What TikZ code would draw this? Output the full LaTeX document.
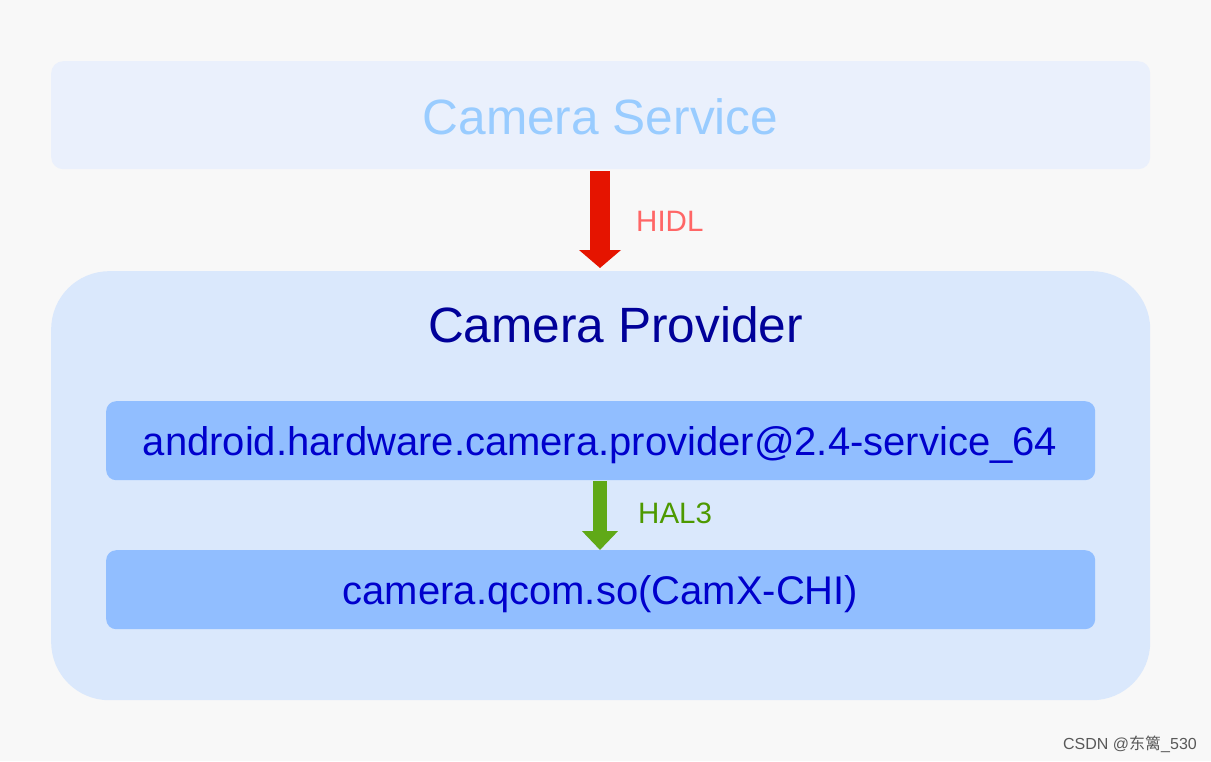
\documentclass[tikz,border=0pt]{standalone}
\usepackage{fontspec}
\setmainfont{Liberation Sans}
\newfontfamily\cjk{Noto Sans CJK SC}
\usetikzlibrary{arrows.meta}
\definecolor{bgc}{HTML}{F8F8F8}
\definecolor{svcfill}{HTML}{EAF0FC}
\definecolor{svctext}{HTML}{99CCFF}
\definecolor{provfill}{HTML}{DAE8FC}
\definecolor{provtext}{HTML}{000099}
\definecolor{innerfill}{HTML}{91BEFF}
\definecolor{innertext}{HTML}{0000CC}
\definecolor{redarrow}{HTML}{E51400}
\definecolor{hidltext}{HTML}{FF6666}
\definecolor{greenarrow}{HTML}{60A917}
\definecolor{haltext}{HTML}{4D9900}
\tikzset{
  box/.style={draw=none, rounded corners=#1, inner sep=0pt, anchor=north west},
  txt/.style={inner sep=0pt, anchor=base},
}
\begin{document}
\begin{tikzpicture}[x=1pt,y=-1pt]
\fill[bgc] (0,0) rectangle (1211,761);
\useasboundingbox (0,0) rectangle (1211,761);
% Camera Service
\node[box=12pt, fill=svcfill, minimum width=1099pt, minimum height=108pt] (svc) at (51,61) {};
\node[txt, text=svctext, font=\fontsize{49.6}{58}\selectfont] (svct) at (600.5,134) {Camera Service};
% Camera Provider
\node[box=58pt, fill=provfill, minimum width=1099pt, minimum height=429pt] (prov) at (51,271) {};
\node[txt, text=provtext, font=\fontsize{49.6}{58}\selectfont] (provt) at (615.5,342) {Camera Provider};
% inner boxes
\node[box=10pt, fill=innerfill, minimum width=989pt, minimum height=79pt] (hidlsvc) at (106,401) {};
\node[txt, text=innertext, font=\fontsize{40}{48}\selectfont] (hidlsvct) at (600,455) {android.hardware.camera.provider@2.4-service\_64};
\node[box=10pt, fill=innerfill, minimum width=989pt, minimum height=79pt] (qcom) at (106,550) {};
\node[txt, text=innertext, font=\fontsize{40}{48}\selectfont] (qcomt) at (600.5,604) {camera.qcom.so(CamX-CHI)};
% arrows
\draw[redarrow, line width=20pt, -{Triangle[width=41pt,length=18pt]}, shorten <=2pt, shorten >=3pt] (svc.south -| 600,0) -- (prov.north -| 600,0);
\node[txt, text=hidltext, font=\fontsize{29.5}{35}\selectfont, anchor=base west] (hidl) at (636,231) {HIDL};
\draw[greenarrow, line width=14pt, -{Triangle[width=35pt,length=19pt]}, shorten <=1pt, shorten >=0pt] (hidlsvc.south -| 600,0) -- (qcom.north -| 600,0);
\node[txt, text=haltext, font=\fontsize{29.5}{35}\selectfont, anchor=base west] (hal) at (638,523) {HAL3};
% watermark
\node[txt, text=black!65, font=\fontsize{16}{18}\selectfont, anchor=base east] (wm) at (1197,749) {CSDN @{\cjk 东篱}\_530};
\end{tikzpicture}
\end{document}
